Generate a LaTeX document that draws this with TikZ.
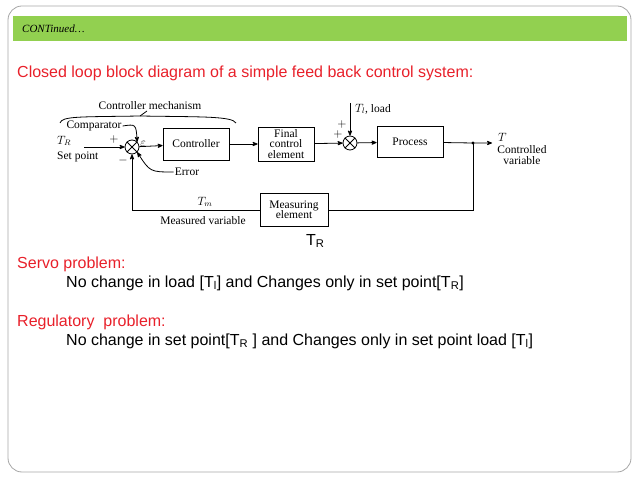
\documentclass[tikz,border=0pt]{standalone}
\usepackage{fontspec}
\setmainfont{Liberation Serif}
\newfontfamily\slidefont{Liberation Sans}
\usetikzlibrary{shapes.misc,positioning,arrows,decorations.pathreplacing}
\definecolor{bargreen}{HTML}{92D050}
\definecolor{slidered}{HTML}{E8202A}

\begin{document}
\begin{tikzpicture}[x=1pt,y=-1pt,
% Block style
		block/.style={rectangle
							    , draw=black, thick
							    , inner sep=1pt
							    , font=\fontsize{11.5}{10.5}\selectfont
							    , align=center},
		lbl/.style={font=\fontsize{11.5}{11}\selectfont, inner sep=1pt, align=center},
		heading/.style={font=\slidefont\fontsize{16}{18}\selectfont, text=slidered, anchor=west, inner sep=0pt},
		body/.style={font=\slidefont\fontsize{16}{18}\selectfont, anchor=west, inner sep=0pt},
		sig/.style={thick, ->, >=stealth'}
	]
\useasboundingbox (0,0) rectangle (638,478);
%% Slide frame
\draw[gray!70, thick, rounded corners=14pt] (8,6) rectangle (631,472);
\fill[bargreen] (13,16) rectangle (627,41);
\node[anchor=west, inner sep=0pt, font=\fontsize{11}{12}\selectfont\itshape] (cont) at (22,29) {CONTinued\ldots};
\node[heading] (title) at (17,73) {Closed loop block diagram of a simple feed back control system:};

%% Blocks
\node[draw, thick, circle, minimum size=14pt, inner sep=0pt] (sum1) at (132,147) {};
\draw[thick] (sum1.north west) -- (sum1.south east) (sum1.north east) -- (sum1.south west);
\node[block, minimum width=66pt, minimum height=32pt] (ctrl) at (196,144) {Controller};
\node[block, minimum width=56pt, minimum height=34pt] (fce) at (286,144) {Final\\control\\element};
\node[draw, thick, circle, minimum size=14pt, inner sep=0pt] (sum2) at (350,143) {};
\draw[thick] (sum2.north west) -- (sum2.south east) (sum2.north east) -- (sum2.south west);
\node[block, minimum width=66pt, minimum height=31pt] (proc) at (410,142) {Process};
\node[block, minimum width=68pt, minimum height=33pt] (meas) at (294,210) {Measuring\\element};
\coordinate (junc) at (473,143);
\coordinate (out) at (492,143);
\coordinate (inp) at (84,147);
\coordinate (load) at (350,103);

%% Labels
\node[lbl, anchor=west] (tr) at (56,141) {$T_R$};
\node[lbl, anchor=west] (sp) at (56,157) {Set point};
\node[lbl] (cmech) at (150,106) {Controller mechanism};
\node[lbl] (comp) at (94,126) {Comparator};
\node[lbl] (err) at (187,172) {Error};
\node[lbl] (eps) at (143,144) {$\varepsilon$};
\node[lbl] (p1) at (114,140) {$+$};
\node[lbl] (m1) at (123,161) {$-$};
\node[lbl] (p2) at (338,135) {$+$};
\node[lbl] (p3) at (342,125) {$+$};
\node[lbl, anchor=west] (tl) at (354,109) {$T_l$, load};
\node[lbl, anchor=west] (tt) at (497,137) {$T$};
\node[lbl] (cv) at (522,155) {Controlled\\variable};
\node[lbl] (tm) at (205,202) {$T_m$};
\node[lbl] (mv) at (203,221) {Measured variable};

%% Brace
\draw[thick] (60,123) .. controls (62,116) and (80,117) .. (140,116)
             .. controls (200,117) and (232,116) .. (236,123);
\draw[thick] (140,116) -- (147,111);

%% Signals
\draw[sig] (inp) -- (sum1);
\draw[sig] (sum1) -- (ctrl);
\draw[sig] (ctrl) -- (fce);
\draw[sig] (fce) -- (sum2);
\draw[sig] (load) -- (sum2);
\draw[sig] (sum2) -- (proc);
\draw[sig] (proc) -- (junc) -- (out);
\fill (junc) circle (1.6pt);
\draw[thick] (junc) |- (meas);
\draw[sig] (meas) -| (sum1);
\draw[sig] (comp.east) .. controls (136,124) .. (sum1.north east);
\draw[sig] (err.west) .. controls (150,172) .. (sum1.south east);

%% Text below
\node[body] (trb) at (306,241) {T\textsubscript{R}};
\node[heading] (servo) at (17,264) {Servo problem:};
\node[body] (servot) at (66,283) {No change in load [T\textsubscript{l}] and Changes only in set point[T\textsubscript{R}]};
\node[heading] (reg) at (17,322) {Regulatory\ \ problem:};
\node[body] (regt) at (66,341) {No change in set point[T\textsubscript{R} ] and Changes only in set point load [T\textsubscript{l}]};
\end{tikzpicture}
\end{document}
